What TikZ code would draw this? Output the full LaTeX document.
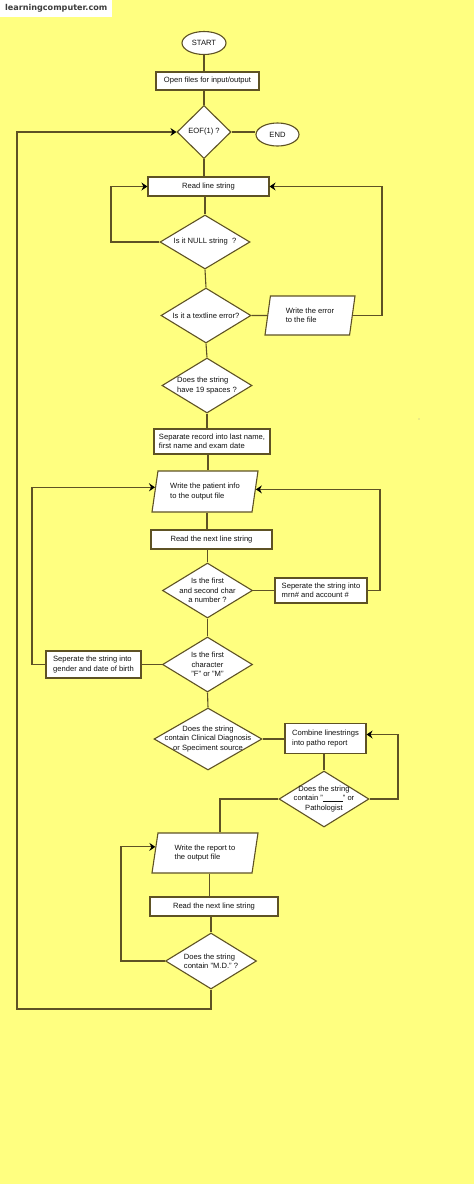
\documentclass[tikz,border=0pt]{standalone}
\usepackage{fontspec}
\setmainfont{Liberation Sans}
\newfontfamily\wmfont{DejaVu Sans}
\usetikzlibrary{shapes.geometric,arrows.meta,calc}
\definecolor{bgy}{HTML}{FFFF80}
\definecolor{lc}{HTML}{5E5224}
\definecolor{tx}{HTML}{111111}
\definecolor{wmc}{HTML}{3D3D3D}
\begin{document}
\begin{tikzpicture}[x=1pt,y=-1pt,
  every node/.style={font=\fontsize{7.6}{9.3}\selectfont, text=tx},
  base/.style={draw=lc, line width=1.1pt, fill=white, inner sep=0pt},
  term/.style={base, ellipse},
  proc/.style={base, rectangle},
  dec/.style={base, diamond},
  io/.style={base, trapezium, trapezium left angle=70, trapezium right angle=110, trapezium stretches body},
  dl/.style={align=center, inner sep=0pt},
  dll/.style={align=left, inner sep=0pt},
  conn/.style={draw=lc, line width=1.1pt},
  arr/.style={conn, -{Stealth[length=6pt,width=8pt,inset=2pt,color=black]}}]
\useasboundingbox (0,0) rectangle (474,1184);
\fill[bgy] (0,0) rectangle (474,1184);
\node[fill=white, inner sep=0pt, minimum width=112pt, minimum height=17pt, anchor=north west, font=\wmfont\bfseries\fontsize{8.1}{9}\selectfont, text=wmc] (wm) at (0,0) {learningcomputer.com};
\fill[lc!50] (419,419) circle (0.6pt);

% nodes
\node[term, minimum width=44pt, minimum height=23pt] (start) at (204,43) {START};
\node[proc, minimum width=103pt, minimum height=18pt] (open) at (207.5,81) {Open files for input/output};
\node[dec, minimum width=54pt, minimum height=53pt, label={[dl]center:EOF(1) ?}] (eof) at (204,132) {};
\node[term, minimum width=43pt, minimum height=23pt] (end) at (277.5,134.5) {END};
\node[proc, minimum width=121pt, minimum height=19pt] (read) at (208.5,186.5) {Read line string};
\node[dec, minimum width=90pt, minimum height=54pt, label={[dl]center:Is it NULL string\ \ ?}] (null) at (205,242) {};
\node[dec, minimum width=90pt, minimum height=55pt, label={[dl]center:Is it a textline error?}] (terr) at (206,315.5) {};
\node[io, minimum width=90pt, minimum height=39pt, align=left] (werr) at (310,315.5) {Write the error\\to the file};
\node[dec, minimum width=90pt, minimum height=55pt, label={[dll]center:{Does the string\\have 19 spaces ?}}] (sp) at (207,385.5) {};
\node[proc, minimum width=116pt, minimum height=25pt, align=left] (sep) at (212,441.5) {Separate record into last name,\\first name and exam date};
\node[io, minimum width=106pt, minimum height=41pt, align=left] (wpat) at (205,491.5) {Write the patient info\\to the output file};
\node[proc, minimum width=121pt, minimum height=19pt] (rn) at (211.5,539.5) {Read the next line string};
\node[dec, minimum width=90pt, minimum height=55pt, label={[dl]center:{Is the first\\and second char\\a number ?}}] (num) at (207.5,590.5) {};
\node[proc, minimum width=92pt, minimum height=25pt, align=left] (mrn) at (321,590.5) {Seperate the string into\\mrn\# and account \#};
\node[dec, minimum width=90pt, minimum height=55pt, label={[dl]center:{Is the first\\character\\"F" or "M"}}] (fm) at (207.5,664.5) {};
\node[proc, minimum width=95pt, minimum height=27pt, align=left] (gen) at (93.5,664.5) {Seperate the string into\\gender and date of birth};
\node[dec, minimum width=108pt, minimum height=62pt, label={[dl]center:{Does the string\\contain Clinical Diagnosis\\or Speciment source}}] (clin) at (208,739) {};
\node[proc, minimum width=81pt, minimum height=30pt, align=left] (comb) at (325.5,738.5) {Combine linestrings\\into patho report};
\node[dec, minimum width=90pt, minimum height=56pt, label={[dl]center:{Does the string\\contain "\rule[-0.6pt]{20pt}{0.4pt}" or\\Pathologist}}] (path) at (324,799) {};
\node[io, minimum width=106pt, minimum height=40pt, align=left] (wrep) at (205,853) {Write the report to\\the output file};
\node[proc, minimum width=128pt, minimum height=19pt] (rn2) at (214,906.5) {Read the next line string};
\node[dec, minimum width=91pt, minimum height=56pt, label={[dll]center:{Does the string\\contain "M.D." ?}}] (md) at (211,961) {};

% helper coordinates
\coordinate (xl) at (17,1009);
\coordinate (xg) at (32,0);
\coordinate (xr) at (380,0);
\coordinate (xe) at (382,0);
\coordinate (xn) at (111,0);
\coordinate (xp) at (398,0);
\coordinate (xw) at (220,0);
\coordinate (xm) at (121,0);
\coordinate (c1) at (208,0);
\coordinate (c2) at (207,0);
\coordinate (c3) at (209.5,0);
\coordinate (wpl) at ($(wpat.top left corner)!0.4!(wpat.bottom left corner)$);
\coordinate (wpr) at ($(wpat.top right corner)!0.45!(wpat.bottom right corner)$);
\coordinate (wrl) at ($(wrep.top left corner)!0.35!(wrep.bottom left corner)$);
\coordinate (cbr) at ([yshift=4pt]comb.east);

% connectors
\draw[conn] (start.south) -- (start.south |- open.north);
\draw[conn] (open.south -| eof) -- (eof.north);
\draw[conn] (eof.east) -- (eof.east -| end.west);
\draw[conn] (eof.south) -- (eof.south |- read.north);
\draw[conn] (null |- read.south) -- (null.north);
\draw[arr] (null.west) -- (null.west -| xn) |- (read.west);
\draw[conn] (null.south) -- (terr.north);
\draw[conn] (terr.east) -- (werr.west);
\draw[arr] (werr.east) -- (werr.east -| xe) |- (read.east);
\draw[conn] (terr.south) -- (sp.north);
\draw[conn] (sp.south) -- (sp.south |- sep.north);
\draw[conn] (sep.south -| c1) -- (wpat.north -| c1);
\draw[conn] (wpat.south -| c2) -- (rn.north -| c2);
\draw[conn] (num |- rn.south) -- (num.north);
\draw[conn] (num.east) -- (mrn.west);
\draw[arr] (mrn.east) -- (mrn.east -| xr) |- (wpr);
\draw[conn] (num.south) -- (fm.north);
\draw[conn] (fm.west) -- (gen.east);
\draw[arr] (gen.west) -- (gen.west -| xg) |- (wpl);
\draw[conn] (fm.south) -- (clin.north);
\draw[conn] (clin.east) -- (clin.east -| comb.west);
\draw[conn] (path |- comb.south) -- (path.north);
\draw[arr] (path.east) -- (path.east -| xp) |- (cbr);
\draw[conn] (path.west) -- (path.west -| xw) -- (xw |- wrep.north);
\draw[conn] (wrep.south -| c3) -- (rn2.north -| c3);
\draw[conn] (md |- rn2.south) -- (md.north);
\draw[arr] (md.west) -- (md.west -| xm) |- (wrl);
\draw[arr] (md.south) -- (md.south |- xl) -- (xl) |- (eof.west);
\end{tikzpicture}
\end{document}
